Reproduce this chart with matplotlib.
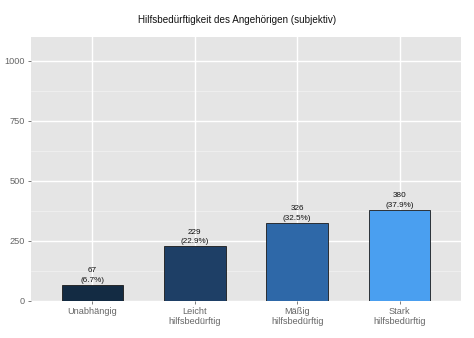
import numpy as np
import matplotlib.pyplot as plt

plt.rcParams['font.family'] = ['Liberation Sans', 'DejaVu Sans']

categories = ['Unabhängig', 'Leicht\nhilfsbedürftig', 'Mäßig\nhilfsbedürftig', 'Stark\nhilfsbedürftig']
counts = [67, 229, 326, 380]
percents = [6.7, 22.9, 32.5, 37.9]
colors = ['#132B43', '#1E3F66', '#2E68A8', '#4A9FF0']

fig = plt.figure(figsize=(4.74, 3.38), dpi=100)
ax = fig.add_axes([31/474, 1 - 301/338, 430/474, 264/338])
ax.set_facecolor('#E5E5E5')

x = np.arange(1, len(categories) + 1)
ax.set_xlim(0.4, 4.6)
ax.set_ylim(0, 1100)

# grid like ggplot
for v in [125, 375, 625, 875]:
    ax.axhline(v, color='#F2F2F2', lw=0.5, zorder=0)
for v in [0, 250, 500, 750, 1000]:
    ax.axhline(v, color='white', lw=1.0, zorder=0)
for xi in x:
    ax.axvline(xi, color='white', lw=1.0, zorder=0)

ax.bar(x, counts, width=0.6, color=colors, edgecolor='#1a1a1a', linewidth=0.6, zorder=2)

for xi, c, p in zip(x, counts, percents):
    ax.text(xi, c + 4, f'{c}\n({p}%)', ha='center', va='bottom', fontsize=5.9,
            color='#111111', linespacing=1.5, zorder=3)

ax.set_xticks(x)
ax.set_xticklabels(categories, fontsize=6.6, color='#666666', linespacing=1.1)
ax.set_yticks([0, 250, 500, 750, 1000])
ax.set_yticklabels(['0', '250', '500', '750', '1000'], fontsize=6.6, color='#666666')
ax.tick_params(axis='both', length=2.5, width=0.6, color='#666666', pad=2)
for s in ax.spines.values():
    s.set_visible(False)

fig.text(0.5, 1 - 20/338, 'Hilfsbedürftigkeit des Angehörigen (subjektiv)',
         ha='center', va='center', fontsize=7.1, color='#111111')

fig.savefig('out.png', dpi=100, facecolor='white')
